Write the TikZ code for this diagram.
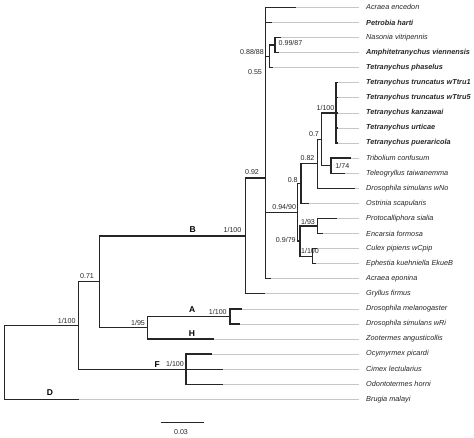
\documentclass[tikz,border=0pt]{standalone}
\usepackage{fontspec}
\setmainfont{Liberation Sans}
\begin{document}
\begin{tikzpicture}[x=1pt,y=-1pt,
  br/.style={line width=1.3pt, black!85, line join=miter},
  ldr/.style={line width=0.8pt, black!22},
  taxon/.style={anchor=west, inner sep=0pt, text=black!85, font=\fontsize{7.3}{8}\selectfont\itshape},
  taxonb/.style={taxon, font=\fontsize{7.3}{8}\selectfont\bfseries\itshape},
  sup/.style={inner sep=0pt, text=black!85, font=\fontsize{7.1}{8}\selectfont},
  clade/.style={inner sep=0pt, text=black, font=\fontsize{8.5}{9}\selectfont\bfseries}]
\useasboundingbox (0,0) rectangle (474,437);
\fill[white] (0,0) rectangle (474,437);

% ---- leaf end points of the black branches
\coordinate (L0) at (295.7,7.3);
\coordinate (L1) at (271.7,22.4);
\coordinate (L2) at (280.7,37.5);
\coordinate (L3) at (279.3,52.5);
\coordinate (L4) at (273.3,67.6);
\coordinate (L5) at (338.0,82.7);
\coordinate (L6) at (338.0,97.8);
\coordinate (L7) at (338.0,112.9);
\coordinate (L8) at (338.0,127.9);
\coordinate (L9) at (338.0,143.0);
\coordinate (L10) at (350.7,158.1);
\coordinate (L11) at (345.0,173.2);
\coordinate (L12) at (355.0,188.3);
\coordinate (L13) at (308.5,203.3);
\coordinate (L14) at (336.7,218.4);
\coordinate (L15) at (323.3,233.5);
\coordinate (L16) at (317.0,248.6);
\coordinate (L17) at (316.0,263.7);
\coordinate (L18) at (270.7,278.7);
\coordinate (L19) at (265.0,293.8);
\coordinate (L20) at (241.7,308.9);
\coordinate (L21) at (240.0,324.0);
\coordinate (L22) at (214.3,339.1);
\coordinate (L23) at (212.3,354.1);
\coordinate (L24) at (223.3,369.2);
\coordinate (L25) at (222.7,384.3);
\coordinate (L26) at (78.7,399.4);

% ---- taxon labels
\node[taxon]  (T0)  at (366,7.3)   {Acraea encedon};
\node[taxonb] (T1)  at (366,22.4)  {Petrobia harti};
\node[taxon]  (T2)  at (366,37.5)  {Nasonia vitripennis};
\node[taxonb] (T3)  at (366,52.5)  {Amphitetranychus viennensis};
\node[taxonb] (T4)  at (366,67.6)  {Tetranychus phaselus};
\node[taxonb] (T5)  at (366,82.7)  {Tetranychus truncatus wTtru1};
\node[taxonb] (T6)  at (366,97.8)  {Tetranychus truncatus wTtru5};
\node[taxonb] (T7)  at (366,112.9) {Tetranychus kanzawai};
\node[taxonb] (T8)  at (366,127.9) {Tetranychus urticae};
\node[taxonb] (T9)  at (366,143.0) {Tetranychus pueraricola};
\node[taxon]  (T10) at (366,158.1) {Tribolium confusum};
\node[taxon]  (T11) at (366,173.2) {Teleogryllus taiwanemma};
\node[taxon]  (T12) at (366,188.3) {Drosophila simulans wNo};
\node[taxon]  (T13) at (366,203.3) {Ostrinia scapularis};
\node[taxon]  (T14) at (366,218.4) {Protocalliphora sialia};
\node[taxon]  (T15) at (366,233.5) {Encarsia formosa};
\node[taxon]  (T16) at (366,248.6) {Culex pipiens wCpip};
\node[taxon]  (T17) at (366,263.7) {Ephestia kuehniella EkueB};
\node[taxon]  (T18) at (366,278.7) {Acraea eponina};
\node[taxon]  (T19) at (366,293.8) {Gryllus firmus};
\node[taxon]  (T20) at (366,308.9) {Drosophila melanogaster};
\node[taxon]  (T21) at (366,324.0) {Drosophila simulans wRi};
\node[taxon]  (T22) at (366,339.1) {Zootermes angusticollis};
\node[taxon]  (T23) at (366,354.1) {Ocymyrmex picardi};
\node[taxon]  (T24) at (366,369.2) {Cimex lectularius};
\node[taxon]  (T25) at (366,384.3) {Odontotermes horni};
\node[taxon]  (T26) at (366,399.4) {Brugia malayi};

% ---- grey leaders
\foreach \i in {0,...,26} {
  \draw[ldr] (L\i) -- ([xshift=-7pt]T\i.west);
}

% ---- internal nodes
\coordinate (R)    at (4.3,325.5);
\coordinate (n1)   at (78.7,325.5);
\coordinate (n071) at (99.3,281.8);
\coordinate (nB)   at (245.7,235.85);
\coordinate (n092) at (265.5,177.9);
\coordinate (n088) at (269.3,56.3);
\coordinate (n099) at (275.0,45.0);
\coordinate (nTet) at (336.0,112.85);
\coordinate (n07)  at (321.7,139.25);
\coordinate (n174) at (331.0,165.65);
\coordinate (n082) at (317.7,163.8);
\coordinate (n08)  at (301.0,183.55);
\coordinate (n094) at (297.7,212.3);
\coordinate (n079) at (300.0,241.05);
\coordinate (n193) at (317.7,225.95);
\coordinate (nCu)  at (312.3,256.15);
\coordinate (n195) at (147.7,327.8);
\coordinate (nA)   at (230.0,316.45);
\coordinate (nF)   at (186.0,369.2);

% ---- black branches
\draw[br] (R) |- (n1);
\draw[br] (R) |- (L26);
\draw[br] (n1) |- (n071);
\draw[br] (n1) |- (nF);
\draw[br] (n071) |- (nB);
\draw[br] (n071) |- (n195);
\draw[br] (nB) |- (n092);
\draw[br] (nB) |- (L19);
\draw[br] (n092) |- (L0);
\draw[br] (n092) |- (L1);
\draw[br] (n092) |- (n088);
\draw[br] (n092) |- (n094);
\draw[br] (n092) |- (L18);
\draw[br] (n088) |- (n099);
\draw[br] (n088) |- (L4);
\draw[br] (n099) |- (L2);
\draw[br] (n099) |- (L3);
\draw[br] (n094) |- (n08);
\draw[br] (n094) |- (n079);
\draw[br] (n08) |- (n082);
\draw[br] (n08) |- (L13);
\draw[br] (n082) |- (n07);
\draw[br] (n082) |- (L12);
\draw[br] (n07) |- (nTet);
\draw[br] (n07) |- (n174);
\foreach \i in {5,...,9} { \draw[br] (nTet) |- (L\i); }
\draw[br] (n174) |- (L10);
\draw[br] (n174) |- (L11);
\draw[br] (n079) |- (n193);
\draw[br] (n079) |- (nCu);
\draw[br] (n193) |- (L14);
\draw[br] (n193) |- (L15);
\draw[br] (nCu) |- (L16);
\draw[br] (nCu) |- (L17);
\draw[br] (n195) |- (nA);
\draw[br] (n195) |- (L22);
\draw[br] (nA) |- (L20);
\draw[br] (nA) |- (L21);
\draw[br] (nF) |- (L23);
\draw[br] (nF) |- (L24);
\draw[br] (nF) |- (L25);

% ---- support values
\node[sup] (s1)   at (66.7,321)   {1/100};
\node[sup] (s071) at (87,276)     {0.71};
\node[sup] (s195) at (138,323.3)  {1/95};
\node[sup] (sF)   at (175,364.3)  {1/100};
\node[sup] (sA)   at (217.8,311.7){1/100};
\node[sup] (sB)   at (232.5,230)  {1/100};
\node[sup] (s092) at (252,172)    {0.92};
\node[sup] (s055) at (255,72.5)   {0.55};
\node[sup] (s088) at (252,52.3)   {0.88/88};
\node[sup] (s099) at (290.5,42.7) {0.99/87};
\node[sup] (sTet) at (325.5,107.7){1/100};
\node[sup] (s07)  at (314,134.3)  {0.7};
\node[sup] (s174) at (342.3,165.7){1/74};
\node[sup] (s082) at (307.5,158.3){0.82};
\node[sup] (s08)  at (292.7,180)  {0.8};
\node[sup] (s094) at (284.2,207.3){0.94/90};
\node[sup] (s079) at (285.8,240)  {0.9/79};
\node[sup] (s193) at (308,221.7)  {1/93};
\node[sup] (sCu)  at (310,250.7)  {1/100};

% ---- clade letters
\node[clade] (cB) at (192.7,230)   {B};
\node[clade] (cA) at (192.3,309.3) {A};
\node[clade] (cH) at (192,333.3)   {H};
\node[clade] (cF) at (157.3,364.3) {F};
\node[clade] (cD) at (50,392.7)    {D};

% ---- scale bar
\coordinate (sb1) at (160.7,422.3);
\coordinate (sb2) at (204,422.3);
\draw[line width=1pt, black!85] (sb1) -- (sb2);
\node[sup] (sbl) at (181,431.7) {0.03};
\end{tikzpicture}
\end{document}
